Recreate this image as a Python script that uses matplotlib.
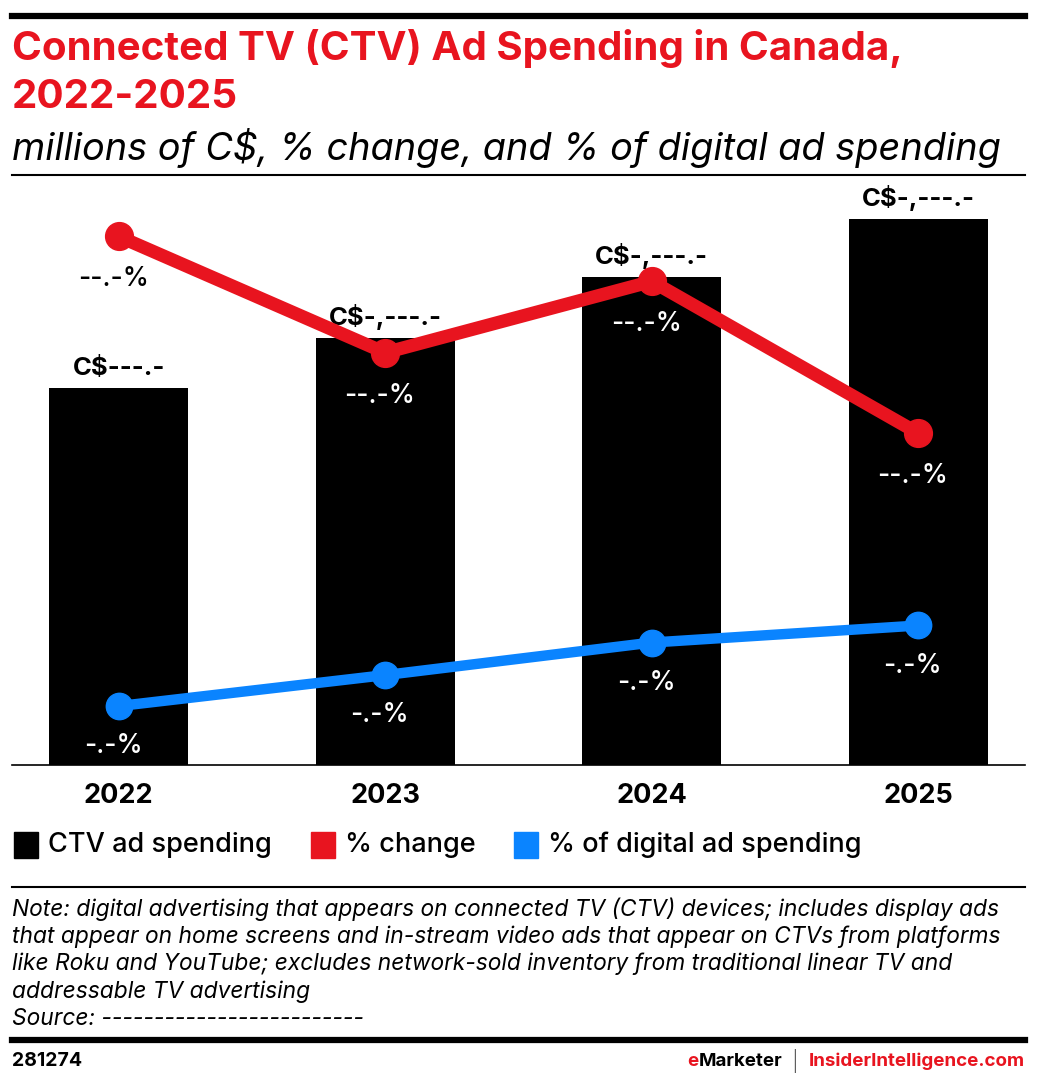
import matplotlib.pyplot as plt
from matplotlib.patches import Rectangle

W, H = 1038, 1086

years = ['2022', '2023', '2024', '2025']
spending = [897.6, 1016.7, 1161.9, 1300.0]
spending_labels = ['C$---.-', 'C$-,---.-', 'C$-,---.-', 'C$-,---.-']
pct_change = [34.1, 26.6, 31.2, 21.4]
pct_change_labels = ['--.-%', '--.-%', '--.-%', '--.-%']
pct_digital = [3.8, 5.8, 7.9, 9.0]
pct_digital_labels = ['-.-%', '-.-%', '-.-%', '-.-%']

RED = '#E8141F'
BLUE = '#0A84FF'
FONT = 'Inter'


def px(x, y):
    return x / W, 1 - y / H


def ftext(x, y, s, **kw):
    kw.setdefault('family', FONT)
    return fig.text(*px(x, y), s, **kw)


def hline(y, lw, x0=12, x1=1025):
    fig.add_artist(plt.Line2D([x0 / W, x1 / W], [1 - y / H, 1 - y / H],
                              color='black', lw=lw, transform=fig.transFigure))


plt.rcParams['font.family'] = FONT
fig = plt.figure(figsize=(W / 100, H / 100), dpi=100)

# header
hline(16, 4.5)
ftext(12, 48, 'Connected TV (CTV) Ad Spending in Canada,', color=RED,
      fontsize=29, weight='bold', va='center')
ftext(12, 97, '2022-2025', color=RED, fontsize=29, weight='bold', va='center')
ftext(12, 148, 'millions of C$, % change, and % of digital ad spending',
      fontsize=27.3, style='italic', va='center')
hline(175, 1.5)

# chart
ax = fig.add_axes([12 / W, 1 - 765 / H, 1013 / W, 585 / H])
x = range(len(years))
ax.bar(x, spending, width=0.52, color='black', zorder=1)
ax.set_xlim(-0.40, 3.40)
ax.set_ylim(0, 1392.9)
for i, (v, lab) in enumerate(zip(spending, spending_labels)):
    ax.annotate(lab, (i, v), xytext=(0, 6), textcoords='offset points',
                ha='center', va='bottom', fontsize=18.5, weight='bold')
for s in ['top', 'right', 'left']:
    ax.spines[s].set_visible(False)
ax.spines['bottom'].set_linewidth(1.2)
ax.set_yticks([])
ax.set_xticks(list(x))
ax.set_xticklabels(years, fontsize=19.5, weight='bold')
ax.tick_params(axis='x', length=0, pad=13)

ax2 = ax.twinx()
ax2.set_ylim(0, 37.74)
ax2.axis('off')
ax2.plot(x, pct_change, color=RED, lw=9.5, marker='o', markersize=20,
         solid_capstyle='round', zorder=3)
ax2.plot(x, pct_digital, color=BLUE, lw=7.5, marker='o', markersize=19,
         solid_capstyle='round', zorder=3)
for i, (v, lab) in enumerate(zip(pct_change, pct_change_labels)):
    col = 'black' if i == 0 else 'white'
    ax2.annotate(lab, (i, v), xytext=(-4, -31), textcoords='offset points',
                 ha='center', va='center', fontsize=19, color=col, weight='medium')
for i, (v, lab) in enumerate(zip(pct_digital, pct_digital_labels)):
    ax2.annotate(lab, (i, v), xytext=(-4, -29), textcoords='offset points',
                 ha='center', va='center', fontsize=19, color='white', weight='medium')

# legend
for (x0, col, lab) in [(14, 'black', 'CTV ad spending'), (311, RED, '% change'),
                       (514, BLUE, '% of digital ad spending')]:
    fig.add_artist(Rectangle(px(x0, 858), 24 / W, 26 / H, color=col,
                             transform=fig.transFigure))
    ftext(x0 + 34, 845, lab, fontsize=19.5, weight='medium', va='center')

hline(887, 1.5)
notes = ['Note: digital advertising that appears on connected TV (CTV) devices; includes display ads',
         'that appear on home screens and in-stream video ads that appear on CTVs from platforms',
         'like Roku and YouTube; excludes network-sold inventory from traditional linear TV and',
         'addressable TV advertising',
         'Source: -------------------------']
for k, line in enumerate(notes):
    ftext(12, 909 + 27.5 * k, line, fontsize=16.4, style='italic', va='center')

hline(1040, 4.5)
ftext(12, 1061, '281274', fontsize=14, weight='bold', va='center')

# footer brand, laid out right to left
r = fig.canvas.get_renderer()
xr = 1025
for s, col, wt in [('InsiderIntelligence.com', RED, 'bold'), ('  |  ', 'black', 'light'),
                   ('Marketer', 'black', 'bold'), ('e', RED, 'bold')]:
    t = ftext(xr, 1061, s, fontsize=13.5, weight=wt, va='center', ha='right', color=col)
    xr -= t.get_window_extent(r).width

fig.savefig('out.png', dpi=100)
